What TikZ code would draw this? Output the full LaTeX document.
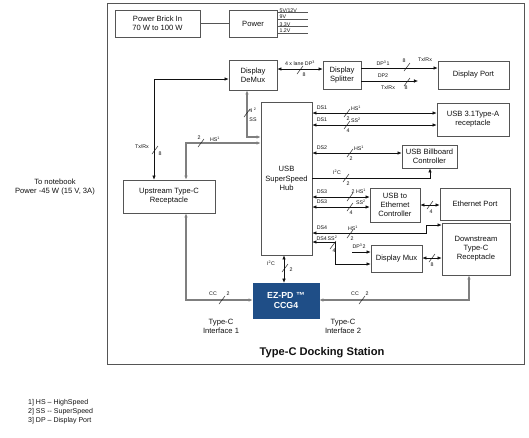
\documentclass[tikz,border=0pt]{standalone}
\usepackage{fontspec}
\setmainfont{Liberation Sans}
\usepackage{xcolor}
\definecolor{DockLine}{HTML}{7F7F7F}
\definecolor{DockEdge}{HTML}{555555}
\definecolor{DockInk}{HTML}{111111}
\definecolor{DockBlue}{HTML}{1F4E87}
\usetikzlibrary{arrows.meta}
\newcommand{\lanemark}[2]{\draw[DockInk,line width=0.4pt] ($(#1,#2)+(-3,4)$) -- ($(#1,#2)+(3,-4)$);}
\usetikzlibrary{calc}

\begin{document}
\begin{tikzpicture}[
        x=0.03cm, y=-0.03cm,
        block/.style={
            draw=DockEdge,
            fill=white,
            text=DockInk,
            line width=0.6pt,
            align=center,
            inner sep=1pt,
            font=\fontsize{6.5}{7.8}\selectfont
        },
        chip/.style={
            draw=DockBlue,
            fill=DockBlue,
            text=white,
            align=center,
            inner sep=1pt,
            font=\bfseries\fontsize{7.5}{9}\selectfont
        },
        bus/.style={
            {Latex[length=3.5pt,width=3pt]}-{Latex[length=3.5pt,width=3pt]},
            line width=0.9pt,
            draw=DockLine
        },
        wire/.style={
            {Latex[length=3.5pt,width=3pt]}-{Latex[length=3.5pt,width=3pt]},
            line width=0.5pt,
            draw=DockInk
        },
        feed/.style={
            -{Latex[length=3.5pt,width=3pt]},
            line width=0.5pt,
            draw=DockInk
        },
        tag/.style={
            inner sep=0.3pt,
            text=DockInk,
            font=\fontsize{4.5}{5}\selectfont
        },
        note/.style={
            align=center,
            text=DockInk,
            font=\fontsize{6.5}{7.8}\selectfont
        }
    ]
        \useasboundingbox (0,0) rectangle (529,437);
        \draw[DockEdge,line width=0.6pt] (107,3) rectangle (524,364);

        % blocks
        \node[block,minimum width=2.55cm,minimum height=0.81cm] (brick) at (157.5,23.5)
            {Power Brick In\\70 W to 100 W};
        \node[block,minimum width=1.44cm,minimum height=0.81cm] (power) at (253,23.5)
            {Power};
        \node[block,minimum width=1.44cm,minimum height=0.9cm] (demux) at (253,75)
            {Display\\DeMux};
        \node[block,minimum width=1.14cm,minimum height=0.84cm] (splitter) at (342,75)
            {Display\\Splitter};
        \node[block,minimum width=2.13cm,minimum height=0.84cm] (dport) at (473.5,75)
            {Display Port};
        \node[block,minimum width=1.53cm,minimum height=4.59cm] (hub) at (286.5,178.5)
            {USB\\SuperSpeed\\Hub};
        \node[block,minimum width=2.16cm,minimum height=0.99cm] (usba) at (473,119.5)
            {USB 3.1Type-A\\receptacle};
        \node[block,minimum width=1.65cm,minimum height=0.69cm] (billboard) at (429.5,156.5)
            {USB Billboard\\Controller};
        \node[block,minimum width=1.5cm,minimum height=1.02cm] (ethctl) at (395,205)
            {USB to\\Ethernet\\Controller};
        \node[block,minimum width=2.1cm,minimum height=0.96cm] (ethport) at (475,204)
            {Ethernet Port};
        \node[block,minimum width=1.53cm,minimum height=0.81cm] (dmux) at (396.5,258.5)
            {Display Mux};
        \node[block,minimum width=2.04cm,minimum height=1.56cm] (down) at (476,249)
            {Downstream\\Type-C\\Receptacle};
        \node[block,minimum width=2.76cm,minimum height=0.99cm] (upstream) at (169,196.5)
            {Upstream Type-C\\Receptacle};
        \node[chip,minimum width=1.98cm,minimum height=1.05cm] (ccg4) at (286,300.5)
            {EZ-PD \texttrademark\\CCG4};

        % power rails
        \draw[DockEdge,line width=0.6pt] (brick) -- (power);
        \foreach \y/\v in {12.7/{5V/12V},19.3/9V,26.7/3.3V,33.3/1.2V}{
            \draw[DockEdge,line width=0.6pt] (power.east |- 0,\y) -- ++(31,0);
            \node[tag,anchor=south west] at (279,\y) {\v};
        }

        % display path
        \draw[wire] (demux.east |- 0,69) -- (splitter.west |- 0,69);
        \node[tag] at (300,63) {4 x lane DP\textsuperscript{3}};
        \lanemark{300}{70}
        \node[tag] at (304,75) {8};
        \draw[feed] (splitter.east |- 0,68) -- (dport.west |- 0,68);
        \node[tag] at (383,63) {DP\textsuperscript{3}1};
        \lanemark{407}{67}
        \node[tag] at (404,61) {8};
        \node[tag] at (425,60) {Tx/Rx};
        \coordinate (dpout) at (418,81);
        \draw[feed] (splitter.east |- 0,81) -- (dpout);
        \node[tag] at (383,76) {DP2};
        \lanemark{407}{82}
        \node[tag] at (388,88) {Tx/Rx};
        \node[tag] at (406,88) {8};

        % upstream side
        \draw[wire] (demux.west |- 0,79) -| (upstream.north -| 154,0);
        \node[tag] at (142,147) {Tx/Rx};
        \lanemark{155}{150}
        \node[tag] at (160,154) {8};
        \draw[bus] (hub.west |- 0,143) -| (upstream.north -| 186,0);
        \node[tag] at (199,138) {2};
        \lanemark{201}{143}
        \node[tag] at (215,139) {HS\textsuperscript{1}};
        \draw[bus] (demux.south -| 247,0) |- (hub.west |- 0,137);
        \lanemark{247}{113}
        \node[tag] at (253,110) {4 \textsuperscript{2}};
        \node[tag] at (253,120) {SS};
        \draw[bus] (upstream.south -| 186,0) |- (ccg4.west |- 0,300);
        \node[tag] at (213,294) {CC};
        \lanemark{222}{300}
        \node[tag] at (228,294) {2};
        \node[note] at (221,326) {Type-C\\Interface 1};

        % controller
        \draw[wire] (hub.south -| 284,0) -- (ccg4.north -| 284,0);
        \node[tag] at (271,263) {I\textsuperscript{2}C};
        \lanemark{285}{268}
        \node[tag] at (291,270) {2};
        \draw[bus] (ccg4.east |- 0,300) -| (down.south -| 469,0);
        \node[tag] at (355,294) {CC};
        \lanemark{362}{300}
        \node[tag] at (367,294) {2};
        \node[note] at (343,326) {Type-C\\Interface 2};

        % downstream ports
        \draw[wire] (hub.east |- 0,113) -- (usba.west |- 0,113);
        \node[tag] at (322,108) {DS1};
        \lanemark{347}{113}
        \node[tag] at (348,119) {2};
        \node[tag] at (356,108) {HS\textsuperscript{1}};
        \draw[wire] (hub.east |- 0,125) -- (usba.west |- 0,125);
        \node[tag] at (322,120) {DS1};
        \lanemark{347}{125}
        \node[tag] at (348,131) {4};
        \node[tag] at (356,120) {SS\textsuperscript{2}};
        \draw[wire] (hub.east |- 0,153) -- (billboard.west |- 0,153);
        \node[tag] at (322,148) {DS2};
        \lanemark{350}{153}
        \node[tag] at (351,159) {2};
        \node[tag] at (359,148) {HS\textsuperscript{1}};
        \draw[feed] (hub.east |- 0,178) -| (billboard.south -| 430,0);
        \node[tag] at (337,172) {I\textsuperscript{2}C};
        \lanemark{346}{178}
        \node[tag] at (348,184) {2};
        \draw[wire] (hub.east |- 0,197) -- (ethctl.west |- 0,197);
        \node[tag] at (322,192) {DS3};
        \lanemark{350}{197}
        \node[tag] at (353,192) {2};
        \node[tag] at (361,191) {HS\textsuperscript{1}};
        \draw[wire] (hub.east |- 0,207) -- (ethctl.west |- 0,207);
        \node[tag] at (322,202) {DS3};
        \lanemark{350}{207}
        \node[tag] at (351,213) {4};
        \node[tag] at (361,202) {SS\textsuperscript{2}};
        \draw[wire] (ethctl.east |- 0,205) -- (ethport.west |- 0,205);
        \lanemark{430}{205}
        \node[tag] at (431,212) {4};
        \draw[wire] (hub.east |- 0,233) -- (426,233) |- (down.west |- 0,225);
        \node[tag] at (322,228) {DS4};
        \node[tag] at (353,228) {HS\textsuperscript{1}};
        \lanemark{350}{234}
        \node[tag] at (352,239) {2};
        \draw[wire] (hub.east |- 0,242) -- (335,242) |- (dmux.west |- 0,264);
        \node[tag] at (327,238) {DS4\,SS\textsuperscript{2}};
        \lanemark{333}{245}
        \node[tag] at (334,251) {4};
        \coordinate (dpin) at (352,252);
        \draw[feed] (dpin) -- (dmux.west |- 0,252);
        \node[tag] at (359,246) {DP\textsuperscript{3}2};
        \draw[wire] (dmux.east |- 0,258) -- (down.west |- 0,258);
        \lanemark{432}{258}
        \node[tag] at (432,265) {8};

        % captions
        \node[text=DockInk,font=\bfseries\fontsize{9.5}{11}\selectfont] (title) at (322,353)
            {Type-C Docking Station};
        \node[note] (notebook) at (55,187) {To notebook\\Power -45 W (15 V, 3A)};
        \node[note,align=left,anchor=north west,font=\fontsize{6}{7.8}\selectfont] (legend) at (24,395)
            {1] HS -- HighSpeed\\2] SS -{}- SuperSpeed\\3] DP -- Display Port};
    \end{tikzpicture}
\end{document}
